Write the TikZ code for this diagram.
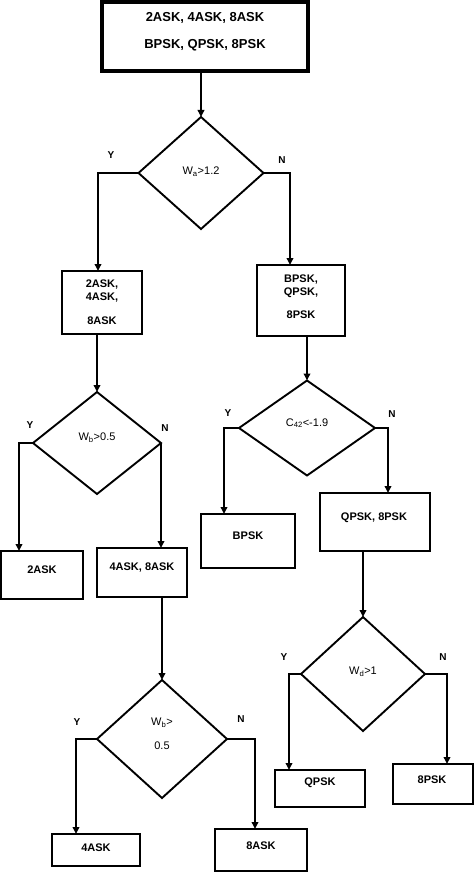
\documentclass[tikz,border=0pt]{standalone}
\usepackage{fontspec}
\setmainfont{Liberation Sans}
\usetikzlibrary{shapes.geometric,arrows.meta}
\tikzset{
  boxnode/.style={draw, rectangle, line width=2.4pt, inner sep=0pt, outer sep=0pt},
  topbox/.style={boxnode, line width=3.4pt},
  decision/.style={draw, diamond, line width=1.9pt, inner sep=0pt, outer sep=0pt},
  btxt/.style={font=\fontsize{11}{13}\selectfont\bfseries, align=center, inner sep=0pt},
  dtxt/.style={font=\fontsize{11}{13}\selectfont, align=center, inner sep=0pt},
  yn/.style={font=\fontsize{10}{12}\selectfont\bfseries, inner sep=0pt},
  conn/.style={line width=1.9pt, -{Triangle[length=7pt,width=6.5pt]}},
}
\begin{document}
\begin{tikzpicture}[x=1pt,y=-1pt]
\useasboundingbox[fill=white] (0,0) rectangle (474,872);
% top box
\node[topbox, minimum width=206pt, minimum height=69pt] (b0) at (205,36.5) {};
\node[btxt, font=\fontsize{13}{27}\selectfont\bfseries] (t0) at (205,31.5) {2ASK, 4ASK, 8ASK\\BPSK, QPSK, 8PSK};
% diamond 1
\node[decision, minimum width=125pt, minimum height=112pt] (d1) at (201,173) {};
\node[dtxt] (td1) at (201,172) {W\textsubscript{a}>1.2};
\node[yn] (y1) at (111,155) {Y};
\node[yn] (n1) at (282,160) {N};
% level 2 boxes
\node[boxnode, minimum width=80pt, minimum height=63pt] (b1) at (102,302.5) {};
\node[btxt] (tb1) at (102,302.5) {2ASK,\\4ASK,\\[11pt]8ASK};
\node[boxnode, minimum width=88pt, minimum height=71pt] (b2) at (301,300.5) {};
\node[btxt] (tb2) at (301,296.5) {BPSK,\\QPSK,\\[10pt]8PSK};
% diamond 2
\node[decision, minimum width=128pt, minimum height=102pt] (d2) at (97,443) {};
\node[dtxt] (td2) at (97,438) {W\textsubscript{b}>0.5};
\node[yn] (y2) at (30,425) {Y};
\node[yn] (n2) at (165,428) {N};
% diamond 3
\node[decision, minimum width=136pt, minimum height=95pt] (d3) at (307,428) {};
\node[dtxt] (td3) at (307,423) {C\textsubscript{42}<-1.9};
\node[yn] (y3) at (228,413) {Y};
\node[yn] (n3) at (392,414) {N};
% level 3 boxes
\node[boxnode, minimum width=82pt, minimum height=48pt] (b3) at (42,575) {};
\node[btxt] (tb3) at (42,570) {2ASK};
\node[boxnode, minimum width=90pt, minimum height=49pt] (b4) at (142,572.5) {};
\node[btxt] (tb4) at (142,568) {4ASK, 8ASK};
\node[boxnode, minimum width=94pt, minimum height=54pt] (b5) at (248,541) {};
\node[btxt] (tb5) at (248,536) {BPSK};
\node[boxnode, minimum width=110pt, minimum height=58pt] (b6) at (375,522) {};
\node[btxt] (tb6) at (374,518) {QPSK, 8PSK};
% diamond 4
\node[decision, minimum width=124pt, minimum height=114pt] (d4) at (363,674) {};
\node[dtxt] (td4) at (363,672) {W\textsubscript{d}>1};
\node[yn] (y4) at (284,657) {Y};
\node[yn] (n4) at (443,657) {N};
% diamond 5
\node[decision, minimum width=130pt, minimum height=118pt] (d5) at (162,739) {};
\node[dtxt, font=\fontsize{11}{24}\selectfont] (td5) at (162,734) {W\textsubscript{b}>\\0.5};
\node[yn] (y5) at (77,722) {Y};
\node[yn] (n5) at (241,719) {N};
% leaf boxes
\node[boxnode, minimum width=90pt, minimum height=37pt] (b7) at (320,788.5) {};
\node[btxt] (tb7) at (320,783) {QPSK};
\node[boxnode, minimum width=80pt, minimum height=40pt] (b8) at (433,784) {};
\node[btxt] (tb8) at (432,780) {8PSK};
\node[boxnode, minimum width=88pt, minimum height=32pt] (b9) at (96,850) {};
\node[btxt] (tb9) at (96,848) {4ASK};
\node[boxnode, minimum width=92pt, minimum height=42pt] (b10) at (261,850) {};
\node[btxt] (tb10) at (261,846) {8ASK};
% bend coordinates
\coordinate (c1y) at (98,173);
\coordinate (c1n) at (290,173);
\coordinate (c2y) at (19,443);
\coordinate (c3y) at (224,428);
\coordinate (c3n) at (388,428);
\coordinate (c4y) at (289,674);
\coordinate (c4n) at (447,674);
\coordinate (c5y) at (76,739);
\coordinate (c5n) at (255,739);
% connectors
\draw[conn] (b0.south -| d1.north) -- (d1.north);
\draw[conn] (d1.west) -- (c1y) -- (c1y |- b1.north);
\draw[conn] (d1.east) -- (c1n) -- (c1n |- b2.north);
\draw[conn] (d2.north |- b1.south) -- (d2.north);
\draw[conn] (d3.north |- b2.south) -- (d3.north);
\draw[conn] (d2.west) -- (c2y) -- (c2y |- b3.north);
\draw[conn] (d2.east) -- (d2.east |- b4.north);
\draw[conn] (d3.west) -- (c3y) -- (c3y |- b5.north);
\draw[conn] (d3.east) -- (c3n) -- (c3n |- b6.north);
\draw[conn] (d5.north |- b4.south) -- (d5.north);
\draw[conn] (d4.north |- b6.south) -- (d4.north);
\draw[conn] (d4.west) -- (c4y) -- (c4y |- b7.north);
\draw[conn] (d4.east) -- (c4n) -- (c4n |- b8.north);
\draw[conn] (d5.west) -- (c5y) -- (c5y |- b9.north);
\draw[conn] (d5.east) -- (c5n) -- (c5n |- b10.north);
\end{tikzpicture}
\end{document}
